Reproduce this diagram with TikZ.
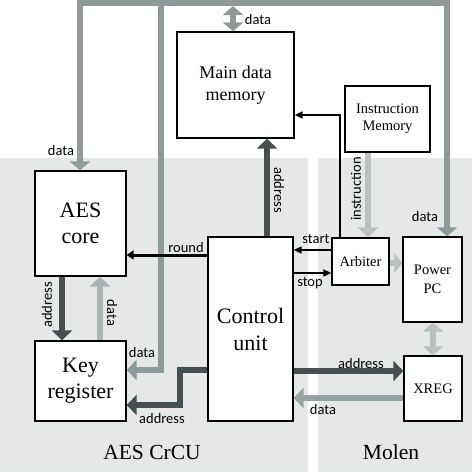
\documentclass[tikz,border=0pt]{standalone}
\usepackage{fontspec}
\setmainfont{Liberation Serif}
\newfontfamily\labfont{Carlito}
\usetikzlibrary{arrows.meta,calc}
\definecolor{panel}{HTML}{E5E8E7}
\definecolor{busc}{HTML}{8D9A98}
\definecolor{darkc}{HTML}{464E4E}
\definecolor{midc}{HTML}{97A3A1}
\definecolor{lightc}{HTML}{A9B3B1}
\definecolor{lighterc}{HTML}{B9C1BF}
\begin{document}
\begin{tikzpicture}[x=1pt,y=-1pt,
  box/.style={draw=black,line width=1.3pt,fill=white,inner sep=0pt,align=center},
  lbl/.style={font=\labfont\fontsize{14.5}{16}\selectfont,inner sep=0pt},
  bigfont/.style={font=\fontsize{22}{26}\selectfont},
  fat/.style={line width=6.5pt,line join=miter,line cap=butt},
  fathead/.style={-{Triangle[width=20pt,length=10pt]}},
  fatboth/.style={{Triangle[width=20pt,length=9pt]}-{Triangle[width=20pt,length=9pt]}},
  thinarr/.style={line width=1.5pt,-{Triangle[width=7pt,length=8pt]}},
  roundarr/.style={line width=3pt,-{Triangle[width=9pt,length=7pt]}}
]
\useasboundingbox (0,0) rectangle (474,474);
% panels
\fill[panel] (0,158) rectangle (308,472);
\fill[panel] (318,158) rectangle (472,472);

% boxes
\node[box,minimum width=117pt,minimum height=106pt,font=\fontsize{18}{22}\selectfont] (mem) at (235.5,85) {Main data\\memory};
\node[box,minimum width=85pt,minimum height=66pt,font=\fontsize{14.5}{17}\selectfont] (imem) at (387.5,119) {Instruction\\Memory};
\node[box,bigfont,minimum width=91pt,minimum height=105pt] (aes) at (80.5,223.5) {AES\\core};
\node[box,bigfont,minimum width=91pt,minimum height=80pt] (key) at (80.5,381) {Key\\register};
\node[box,minimum width=85pt,minimum height=184pt,font=\fontsize{22}{27}\selectfont] (ctrl) at (250.5,329) {Control\\unit};
\node[box,minimum width=57pt,minimum height=47pt,font=\fontsize{14.5}{17}\selectfont] (arb) at (360.5,261.5) {Arbiter};
\node[box,minimum width=59pt,minimum height=85pt,font=\fontsize{14.5}{19}\selectfont] (ppc) at (432.5,279.5) {Power\\PC};
\node[box,minimum width=58pt,minimum height=65pt,font=\fontsize{14.5}{17}\selectfont] (xreg) at (433,388.5) {XREG};

\node[font=\fontsize{21.5}{24}\selectfont,inner sep=0pt] (crcu) at (152,452) {AES CrCU};
\node[font=\fontsize{21.5}{24}\selectfont,inner sep=0pt] (molen) at (391,452) {Molen};

% coordinates
\coordinate (bL) at (80,3);
\coordinate (bR) at (447,3);
\coordinate (bM) at (161,3);
\coordinate (kd) at (161,370);
\coordinate (bD) at (233,6);
\coordinate (ax) at (267,190);
\coordinate (ac) at (340,115);
\coordinate (ix) at (368,190);
\coordinate (ry) at (170,255);
\coordinate (sy) at (310,250);
\coordinate (ty) at (310,273);
\coordinate (ay) at (395,263);
\coordinate (px) at (433,340);
\coordinate (xa) at (350,371);
\coordinate (xd) at (350,398);
\coordinate (ka) at (62,305);
\coordinate (kb) at (100,305);
\coordinate (c1) at (180,370);
\coordinate (c2) at (180,405);

% connectors
\draw[fat,busc,fatboth] (ppc.north -| bR) -- (bR) -- (bL) -- (aes.north -| bL);
\draw[fat,busc,fathead] (bM) -- (kd) -- (kd -| key.east);
\draw[fat,busc,fatboth] (bD) -- (mem.north -| bD);
\draw[fat,darkc,fathead] (ctrl.north -| ax) -- (mem.south -| ax);
\draw[thinarr] (arb.north -| ac) -- (ac) -- (mem.east |- ac);
\draw[fat,lighterc,fathead] (imem.south -| ix) -- (arb.north -| ix);
\draw[roundarr] (ctrl.west |- ry) -- (aes.east |- ry);
\draw[thinarr] (arb.west |- sy) -- (ctrl.east |- sy);
\draw[thinarr] (ctrl.east |- ty) -- (arb.west |- ty);
\draw[fat,lighterc,-{Triangle[width=19pt,length=8pt]}] (arb.east |- ay) -- (ppc.west |- ay);
\draw[fat,lighterc,fatboth] (ppc.south -| px) -- (xreg.north -| px);
\draw[fat,darkc,fathead] (ctrl.east |- xa) -- (xreg.west |- xa);
\draw[fat,midc,fathead] (xreg.west |- xd) -- (ctrl.east |- xd);
\draw[fat,darkc,fathead] (aes.south -| ka) -- (key.north -| ka);
\draw[fat,lightc,fathead] (key.north -| kb) -- (aes.south -| kb);
\draw[fat,darkc,fathead] (ctrl.west |- c1) -- (c1) -- (c2) -- (key.east |- c2);

% labels
\node[lbl] (l1) at (61,151) {data};
\node[lbl] (l2) at (258,20) {data};
\node[lbl,rotate=-90] (l3) at (279,190) {address};
\node[lbl,rotate=90] (l4) at (356,189) {instruction};
\node[lbl] (l5) at (425,217) {data};
\node[lbl] (l6) at (186,248) {round};
\node[lbl] (l7) at (316,239) {start};
\node[lbl] (l8) at (310,283) {stop};
\node[lbl,rotate=90] (l9) at (47,305) {address};
\node[lbl,rotate=-90] (l10) at (112,313) {data};
\node[lbl] (l11) at (142,353) {data};
\node[lbl] (l12) at (162,419) {address};
\node[lbl] (l13) at (361,364) {address};
\node[lbl] (l14) at (323,410) {data};
\end{tikzpicture}
\end{document}
